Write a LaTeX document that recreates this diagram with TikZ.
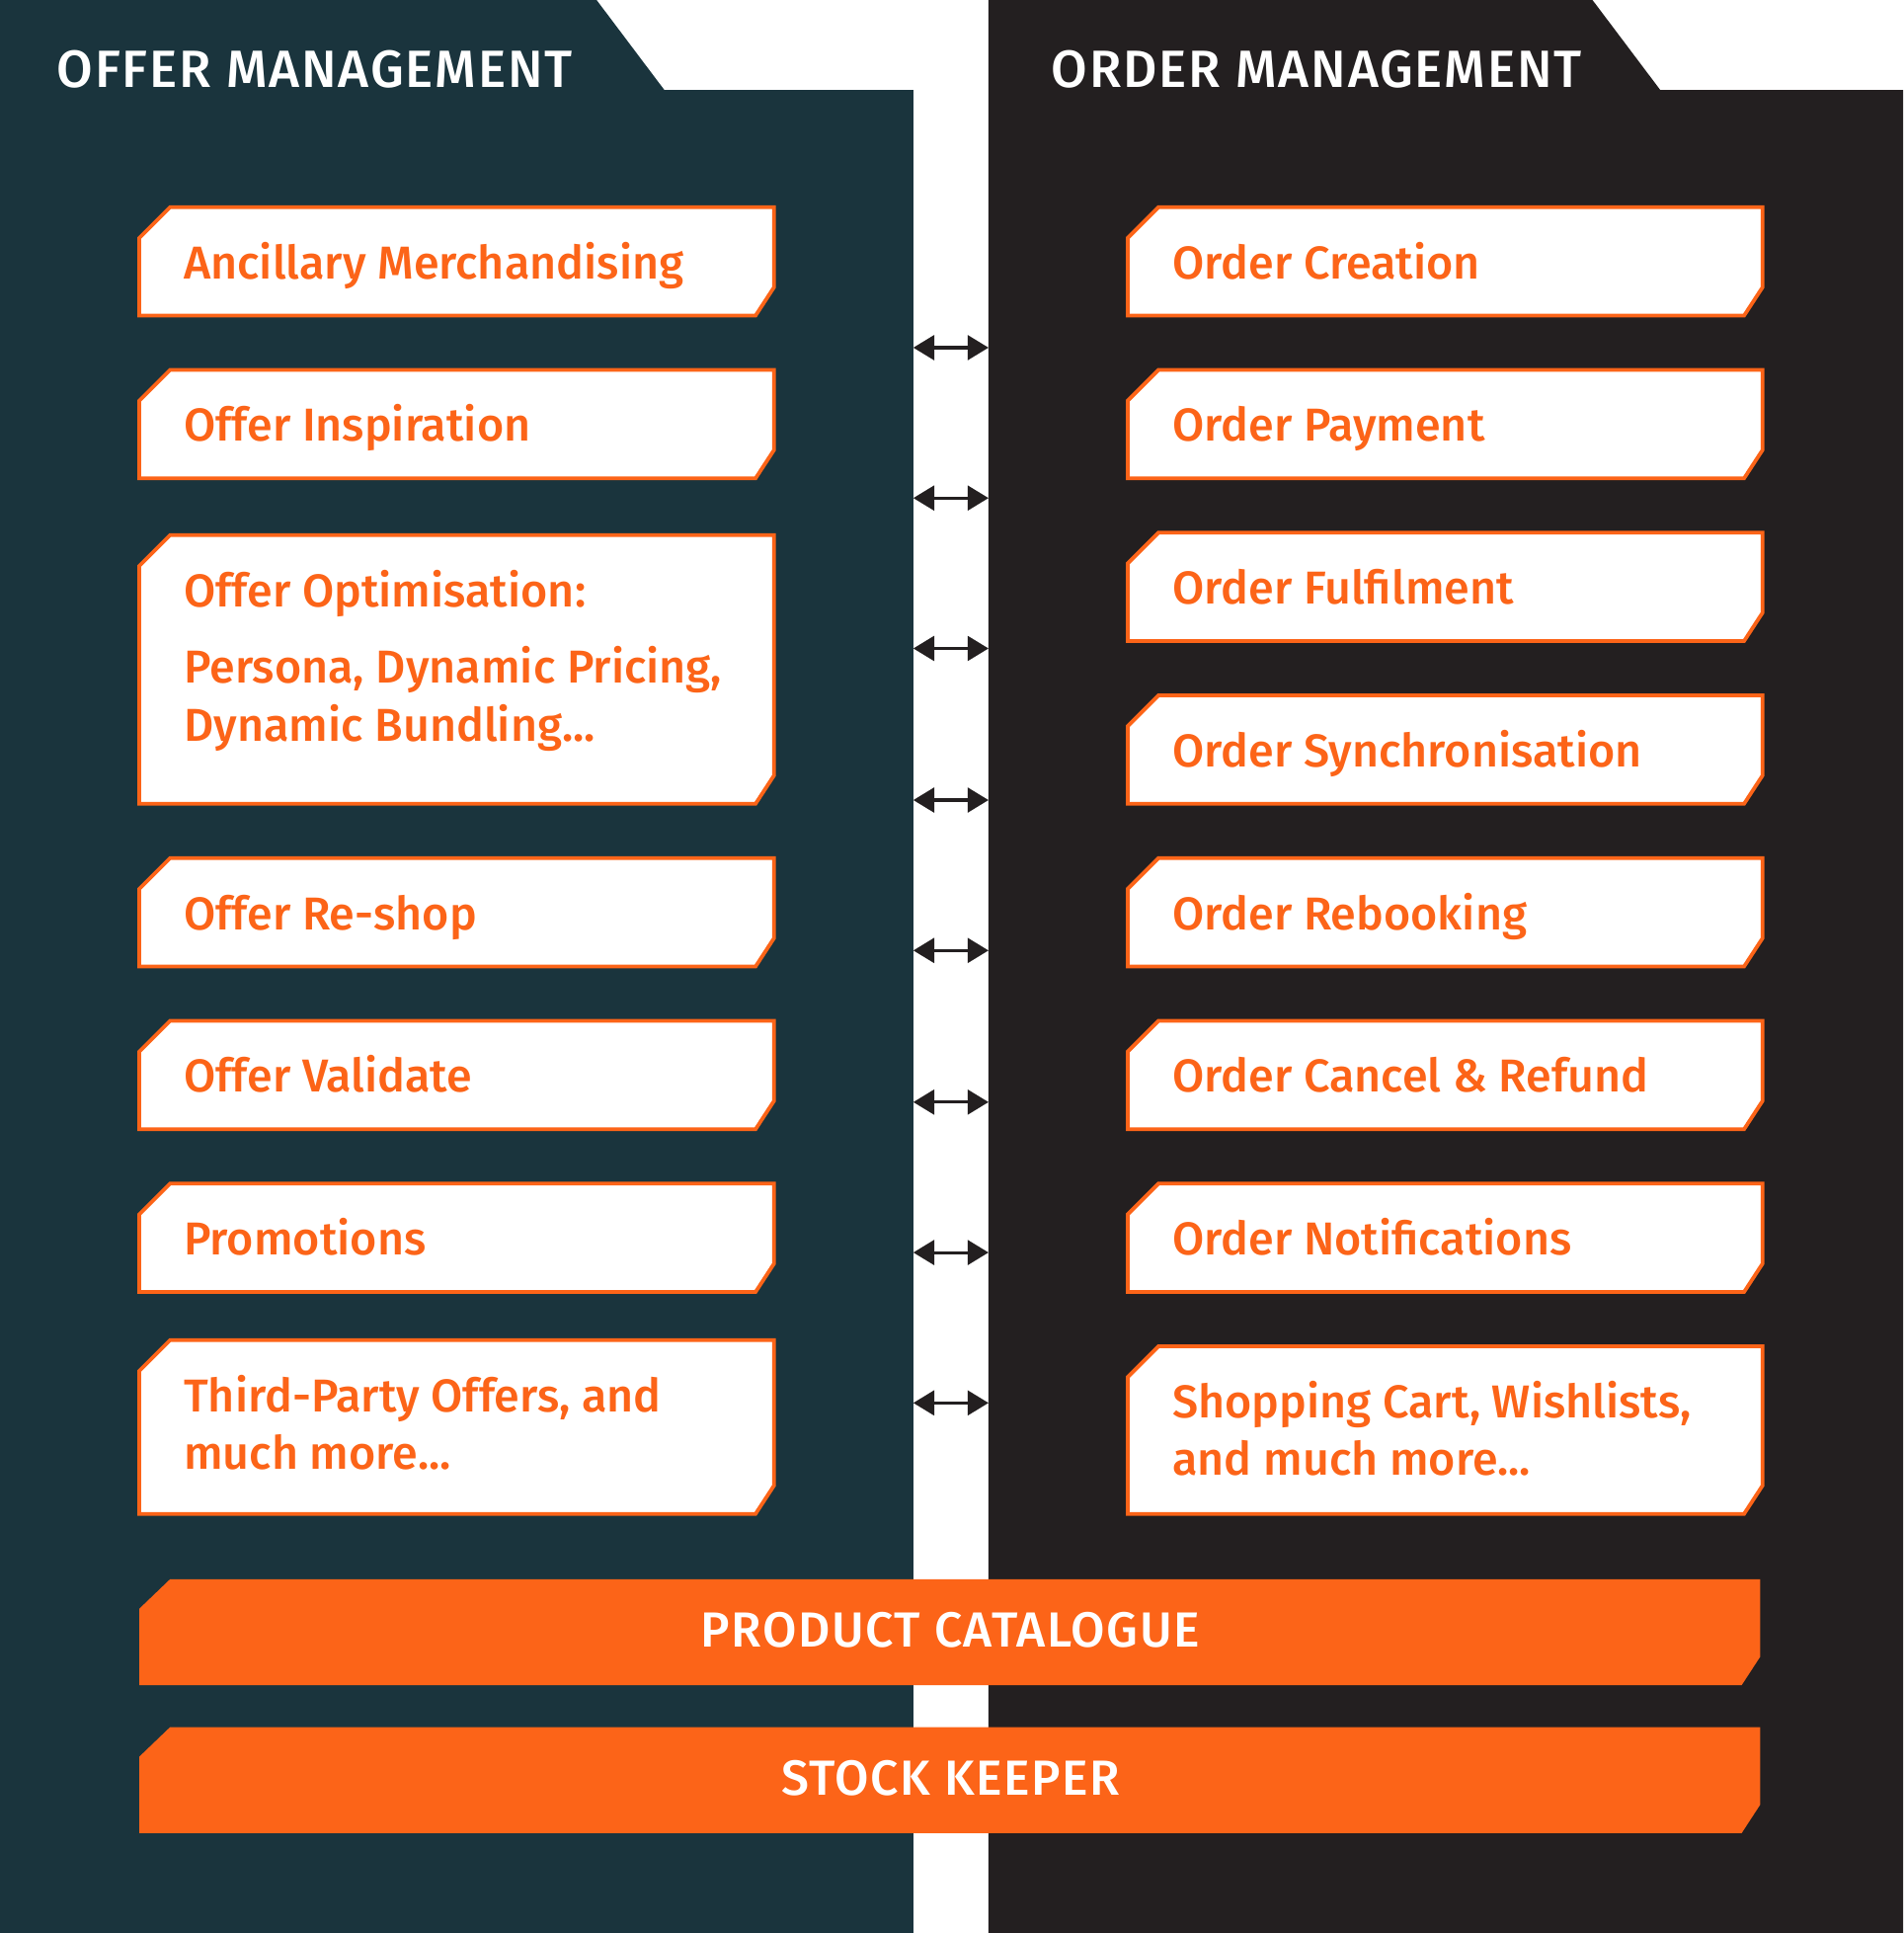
\documentclass[tikz,border=0pt]{standalone}
\usepackage{fontspec}
\setmainfont{Fira Sans}[UprightFont=* Medium, BoldFont=* SemiBold]
\usetikzlibrary{arrows.meta}
\definecolor{offerbg}{HTML}{1A343D}
\definecolor{orderbg}{HTML}{231F20}
\definecolor{orng}{HTML}{FC6418}

% chamfered white box: name, left x, top y, bottom y, text
\newcommand\funcbox[5]{%
  \draw[boxline] (#2,#3+25) -- (#2+25,#3) -- (#2+515,#3) -- (#2+515,#4-23)
    -- (#2+500,#4) -- (#2,#4) -- cycle;
  \node[boxtext] (#1) at (#2+36,#3+58)
    {\begin{tabular}[t]{@{}l@{}}#5\end{tabular}};
}
% orange bar: name, top y, bottom y, text
\newcommand\basebar[4]{%
  \fill[orng] (113,#2+24) -- (138,#2) -- (1428,#2) -- (1428,#3-23)
    -- (1413,#3) -- (113,#3) -- cycle;
  \node[bartext] (#1) at (771,#3-31) {#4};
}

\begin{document}
\begin{tikzpicture}[
    x=1pt, y=-1pt,
    boxline/.style={draw=orng, fill=white, line width=3pt},
    boxtext/.style={anchor=base west, inner sep=0pt, text=orng,
      font=\fontsize{37.4}{47}\selectfont},
    bartext/.style={anchor=base, inner sep=0pt, text=white,
      font=\fontsize{40}{47}\selectfont\addfontfeature{LetterSpace=3}},
    head/.style={anchor=base west, inner sep=0pt, text=white,
      font=\fontsize{42.5}{48}\selectfont\addfontfeature{LetterSpace=3.5}},
    link/.style={draw=orderbg, line width=2.5pt,
      {Triangle[length=17pt,width=20pt]}-{Triangle[length=17pt,width=20pt]}}
  ]
  \useasboundingbox (0,0) rectangle (1544,1568);
  \fill[white] (0,0) rectangle (1544,1568);

  % the two panels
  \fill[offerbg] (0,0) -- (484,0) -- (539,73) -- (741,73) -- (741,1568)
    -- (0,1568) -- cycle;
  \fill[orderbg] (802,0) -- (1292,0) -- (1347,73) -- (1544,73) -- (1544,1568)
    -- (802,1568) -- cycle;
  \node[head] (offer) at (46,71) {OFFER MANAGEMENT};
  \node[head] (order) at (853,71) {ORDER MANAGEMENT};

  % offer side
  \funcbox{anc}{113}{168}{256}{Ancillary Merchandising}
  \funcbox{insp}{113}{300}{388}{Offer Inspiration}
  \funcbox{optim}{113}{434}{652}{Offer Optimisation:\\[15pt]
    Persona, Dynamic Pricing,\\ Dynamic Bundling...}
  \funcbox{reshop}{113}{696}{784}{Offer Re-shop}
  \funcbox{valid}{113}{828}{916}{Offer Validate}
  \funcbox{promo}{113}{960}{1048}{Promotions}
  \funcbox{third}{113}{1087}{1228}{Third-Party Offers, and\\ much more...}

  % order side
  \funcbox{create}{915}{168}{256}{Order Creation}
  \funcbox{pay}{915}{300}{388}{Order Payment}
  \funcbox{fulfil}{915}{432}{520}{Order Fulfilment}
  \funcbox{sync}{915}{564}{652}{Order Synchronisation}
  \funcbox{rebook}{915}{696}{784}{Order Rebooking}
  \funcbox{cancel}{915}{828}{916}{Order Cancel \& Refund}
  \funcbox{notif}{915}{960}{1048}{Order Notifications}
  \funcbox{cart}{915}{1092}{1228}{Shopping Cart, Wishlists,\\ and much more...}

  % links between the panels
  \foreach \y in {282,404,526,649,771,894,1016,1138} {
    \coordinate (l\y) at (741,\y);
    \coordinate (r\y) at (802,\y);
    \draw[link] (l\y) -- (r\y);
  }

  % shared services
  \basebar{catalogue}{1281}{1367}{PRODUCT CATALOGUE}
  \basebar{stock}{1401}{1487}{STOCK KEEPER}
\end{tikzpicture}
\end{document}
